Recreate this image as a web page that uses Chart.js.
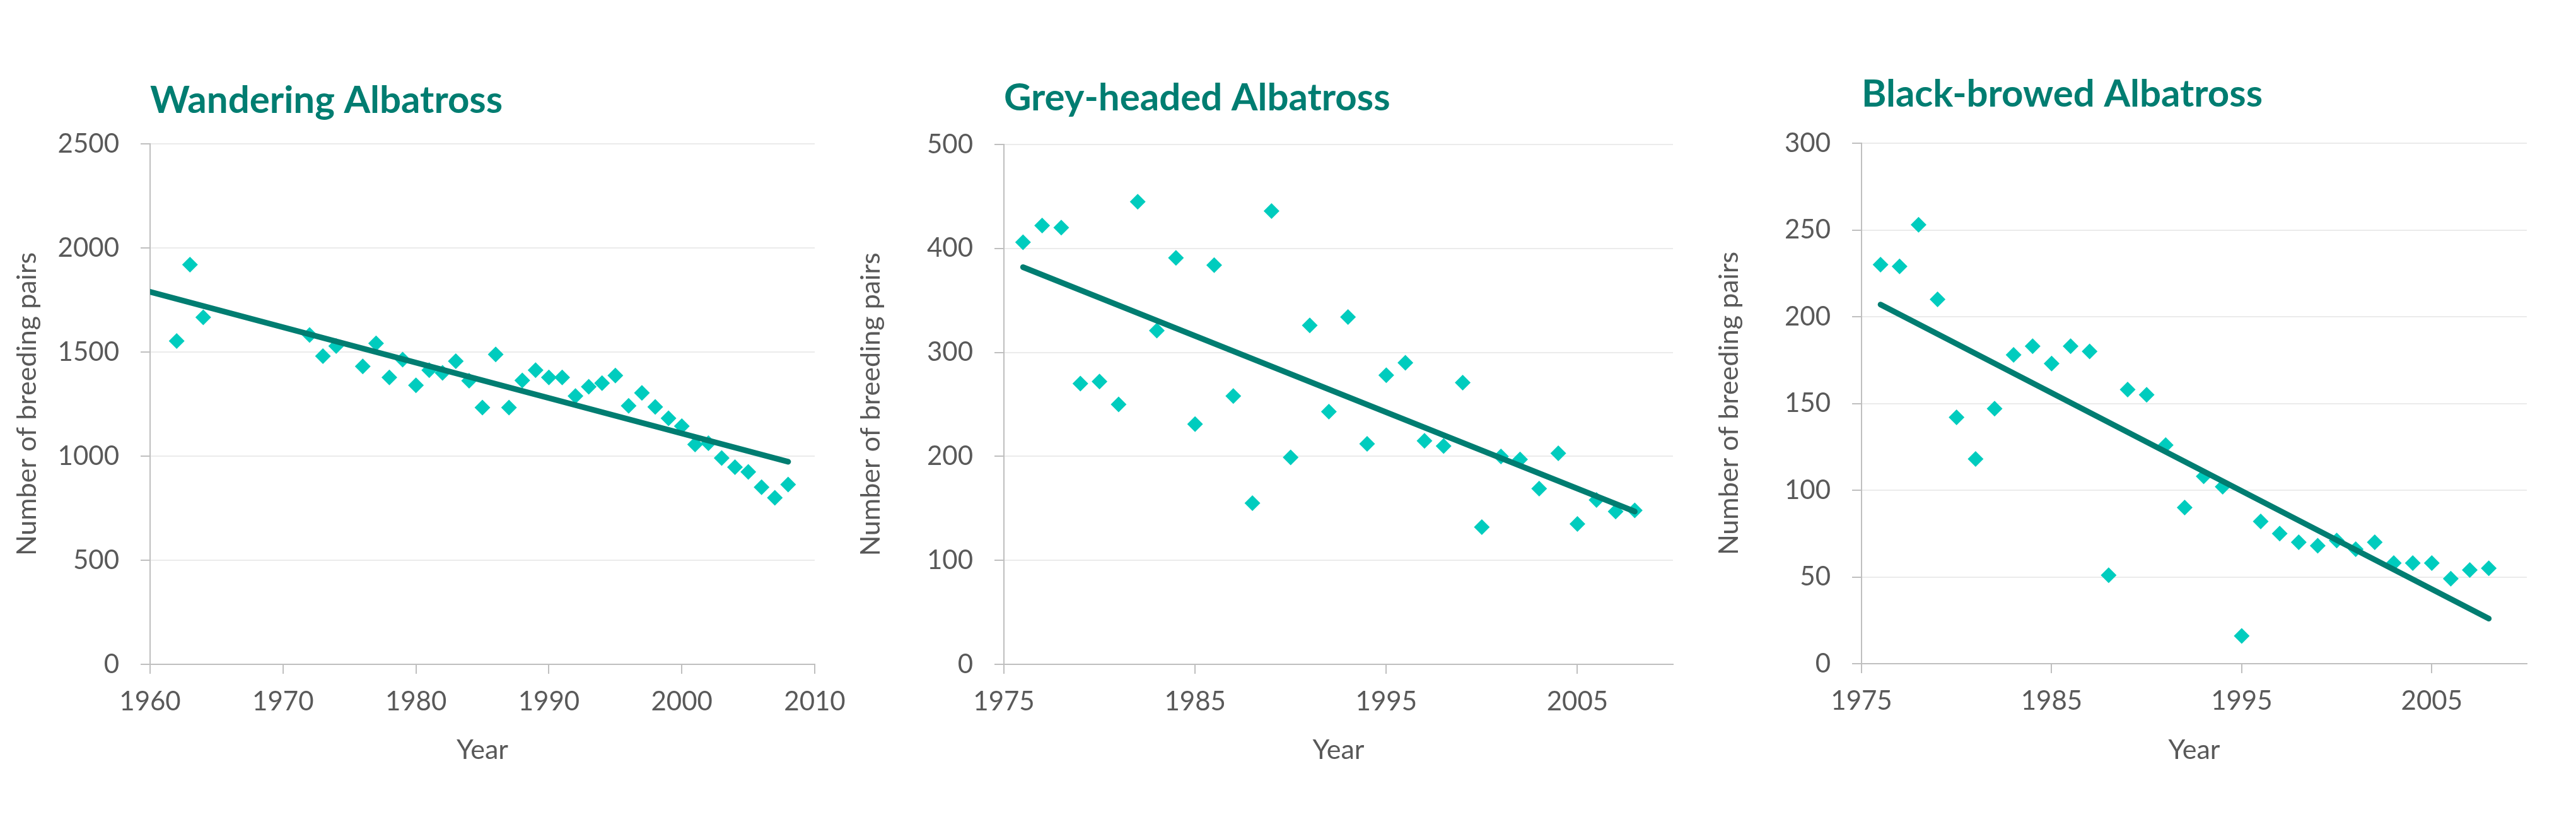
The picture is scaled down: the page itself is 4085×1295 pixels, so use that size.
<!DOCTYPE html>
<html>
<head>
<meta charset="utf-8">
<script src="https://cdn.jsdelivr.net/npm/chart.js@4.4.1/dist/chart.umd.min.js"></script>
<style>
  html, body { margin: 0; padding: 0; background: #ffffff; }
  body { width: 4085px; height: 1295px; position: relative; overflow: hidden; }
  canvas { position: absolute; top: 0; }
</style>
</head>
<body>
<canvas id="wandering" width="1360" height="1295" style="left:0px"></canvas>
<canvas id="greyheaded" width="1360" height="1295" style="left:1340px"></canvas>
<canvas id="blackbrowed" width="1385" height="1295" style="left:2700px"></canvas>
<script>
// Wandering Albatross
const wanderingYears = [1962, 1963, 1964, 1972, 1973, 1974, 1976, 1977, 1978, 1979, 1980, 1981, 1982, 1983,
  1984, 1985, 1986, 1987, 1988, 1989, 1990, 1991, 1992, 1993, 1994, 1995, 1996, 1997, 1998, 1999, 2000,
  2001, 2002, 2003, 2004, 2005, 2006, 2007, 2008];
const wanderingPairs = [1553, 1920, 1667, 1582, 1480, 1529, 1431, 1542, 1378, 1464, 1340, 1413, 1400, 1456,
  1362, 1233, 1489, 1233, 1364, 1413, 1378, 1378, 1289, 1333, 1351, 1387, 1242, 1304, 1236, 1182, 1144,
  1056, 1062, 991, 947, 924, 851, 800, 864];
const wanderingTrendYears = [1960, 2008];
const wanderingTrendPairs = [1789, 973];

// Grey-headed Albatross
const greyYears = [1976, 1977, 1978, 1979, 1980, 1981, 1982, 1983, 1984, 1985, 1986, 1987, 1988, 1989,
  1990, 1991, 1992, 1993, 1994, 1995, 1996, 1997, 1998, 1999, 2000, 2001, 2002, 2003, 2004, 2005, 2006,
  2007, 2008];
const greyPairs = [406, 422, 420, 270, 272, 250, 445, 321, 391, 231, 384, 258, 155, 436,
  199, 326, 243, 334, 212, 278, 290, 215, 210, 271, 132, 200, 197, 169, 203, 135, 158,
  147, 148];
const greyTrendYears = [1976, 2008];
const greyTrendPairs = [382, 147];

// Black-browed Albatross
const blackYears = [1976, 1977, 1978, 1979, 1980, 1981, 1982, 1983, 1984, 1985, 1986, 1987, 1988, 1989,
  1990, 1991, 1992, 1993, 1994, 1995, 1996, 1997, 1998, 1999, 2000, 2001, 2002, 2003, 2004, 2005, 2006,
  2007, 2008];
const blackPairs = [230, 229, 253, 210, 142, 118, 147, 178, 183, 173, 183, 180, 51, 158,
  155, 126, 90, 108, 102, 16, 82, 75, 70, 68, 71, 66, 70, 58, 58, 58, 49,
  54, 55];
const blackTrendYears = [1976, 2008];
const blackTrendPairs = [207, 26];

// axis ticks
const wanderingXTicks = [1960, 1970, 1980, 1990, 2000, 2010];
const laterXTicks = [1975, 1985, 1995, 2005];

const POINT_COLOR = '#00CCBE';
const TREND_COLOR = '#007D71';
const TEXT_GREY = '#595959';
const AXIS_GREY = '#bfbfbf';
const GRID_GREY = '#ebebeb';

Chart.defaults.font.family = 'Lato';

function makeChart(id, o) {
  const ctx = document.getElementById(id).getContext('2d');
  const points = o.years.map((y, i) => ({ x: y, y: o.pairs[i] }));
  const trend = o.trendYears.map((y, i) => ({ x: y, y: o.trendPairs[i] }));

  return new Chart(ctx, {
    type: 'scatter',
    data: {
      datasets: [
        {
          label: 'Trend',
          data: trend,
          showLine: true,
          borderColor: TREND_COLOR,
          borderWidth: 9,
          borderCapStyle: 'round',
          pointRadius: 0,
          order: 0
        },
        {
          label: o.title,
          data: points,
          pointStyle: 'rectRot',
          pointRadius: 12.5,
          pointBackgroundColor: POINT_COLOR,
          pointBorderWidth: 0,
          order: 1
        }
      ]
    },
    options: {
      responsive: false,
      animation: false,
      devicePixelRatio: 1,
      layout: { padding: { left: 0, right: o.padRight, top: 0, bottom: 0 } },
      plugins: {
        legend: { display: false },
        tooltip: { enabled: false },
        title: {
          display: true,
          text: o.title,
          align: 'start',
          fullSize: false,
          color: TREND_COLOR,
          font: { family: 'Lato', size: 60, weight: 'bold', lineHeight: 1.2 },
          padding: { top: o.titleTop, bottom: o.titleBottom }
        }
      },
      scales: {
        x: {
          type: 'linear',
          min: o.xMin,
          max: 2010,
          afterBuildTicks: s => { s.ticks = o.xTicks.map(v => ({ value: v })); },
          afterFit: s => { s.height = o.xAxisHeight; },
          border: { color: AXIS_GREY, width: 2 },
          grid: { drawOnChartArea: false, drawTicks: true, tickLength: 15, tickColor: AXIS_GREY, lineWidth: 2 },
          ticks: {
            color: TEXT_GREY,
            font: { size: 42 },
            padding: 19,
            maxRotation: 0,
            autoSkip: false,
            callback: v => String(v)
          },
          title: {
            display: true,
            text: 'Year',
            color: TEXT_GREY,
            font: { size: 43, lineHeight: 1.2 },
            padding: { top: 0, bottom: 80 }
          }
        },
        y: {
          min: 0,
          max: o.yMax,
          afterFit: s => { s.width = o.yAxisWidth; },
          border: { color: AXIS_GREY, width: 2 },
          grid: { color: GRID_GREY, lineWidth: 2, drawTicks: true, tickLength: 15, tickColor: AXIS_GREY },
          ticks: {
            stepSize: o.yStep,
            color: TEXT_GREY,
            font: { size: 42 },
            padding: 34,
            callback: v => String(v)
          },
          title: {
            display: true,
            text: 'Number of breeding pairs',
            color: TEXT_GREY,
            font: { size: 43, lineHeight: 1.2 },
            padding: { top: o.yTitlePad, bottom: 0 }
          }
        }
      }
    }
  });
}

makeChart('wandering', {
  title: 'Wandering Albatross',
  years: wanderingYears, pairs: wanderingPairs,
  trendYears: wanderingTrendYears, trendPairs: wanderingTrendPairs,
  xMin: 1960, xTicks: wanderingXTicks, yMax: 2500, yStep: 500,
  padRight: 68, yAxisWidth: 238, xAxisHeight: 242,
  titleTop: 124, titleBottom: 32, yTitlePad: 17
});

makeChart('greyheaded', {
  title: 'Grey-headed Albatross',
  years: greyYears, pairs: greyPairs,
  trendYears: greyTrendYears, trendPairs: greyTrendPairs,
  xMin: 1975, xTicks: laterXTicks, yMax: 500, yStep: 100,
  padRight: 47, yAxisWidth: 252, xAxisHeight: 242,
  titleTop: 120, titleBottom: 37, yTitlePad: 15
});

makeChart('blackbrowed', {
  title: 'Black-browed Albatross',
  years: blackYears, pairs: blackPairs,
  trendYears: blackTrendYears, trendPairs: blackTrendPairs,
  xMin: 1975, xTicks: laterXTicks, yMax: 300, yStep: 50,
  padRight: 78, yAxisWidth: 252, xAxisHeight: 243,
  titleTop: 114, titleBottom: 41, yTitlePad: 16
});
</script>
</body>
</html>
